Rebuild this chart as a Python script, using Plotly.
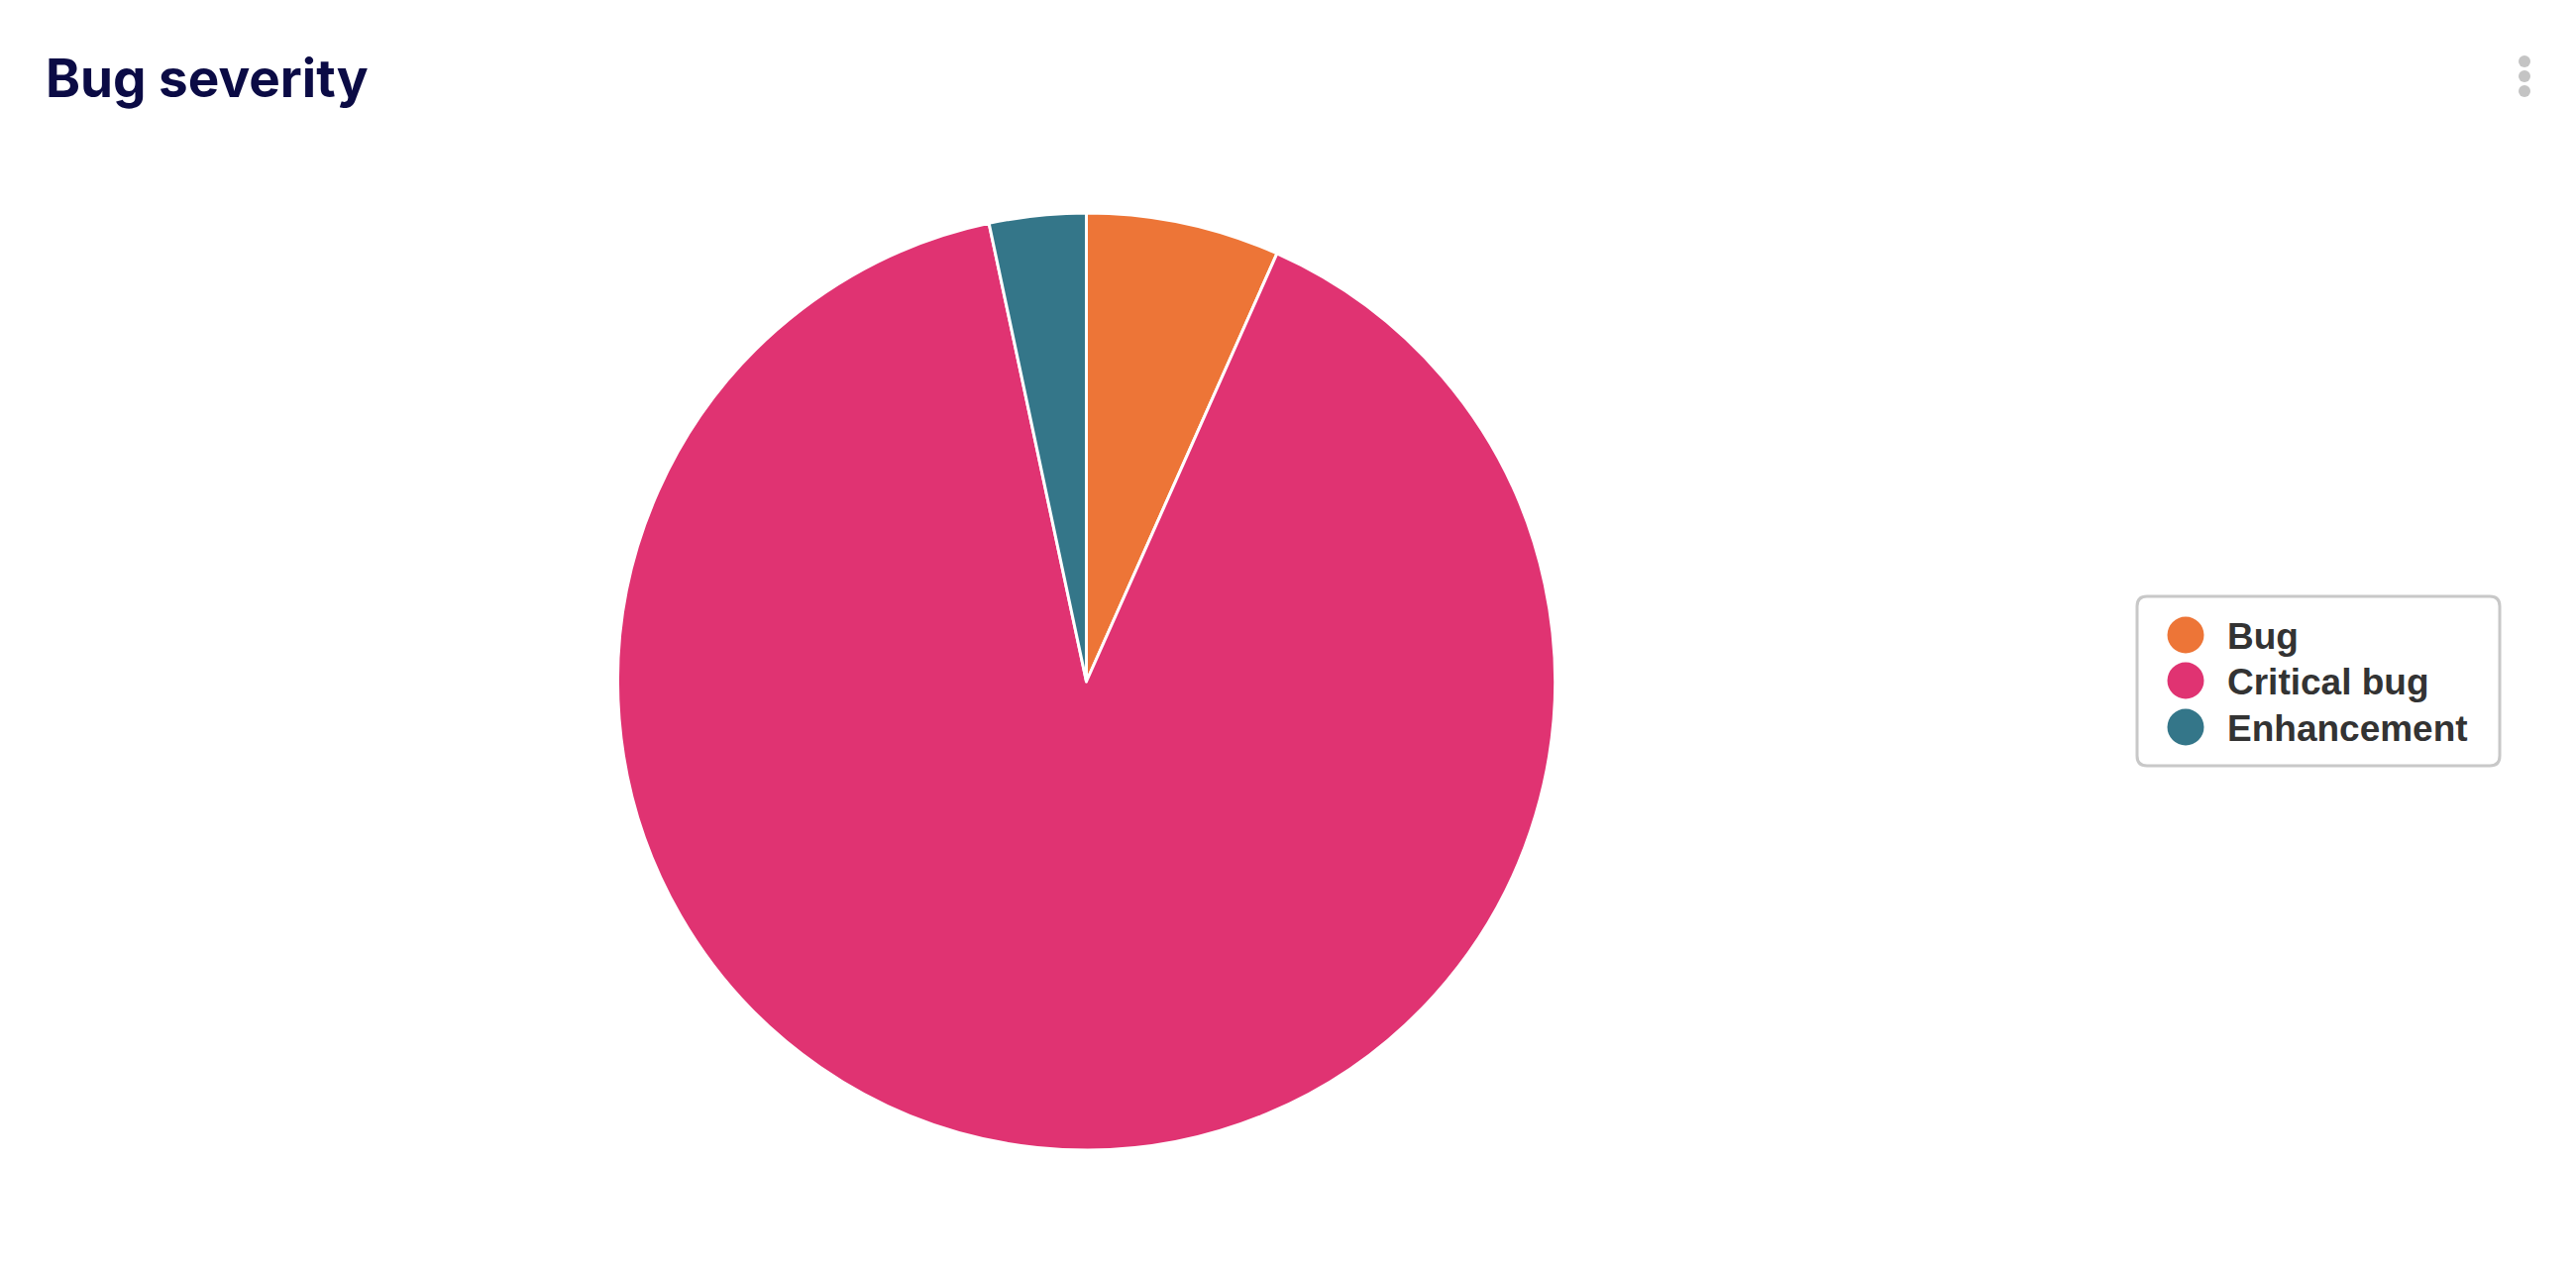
import plotly.graph_objects as go

OFF = 8  # default page body margin
W, H = 2600 - 2 * OFF, 1281 - 2 * OFF

categories = ["Bug", "Critical bug", "Enhancement"]
counts = [2, 27, 1]
colors = ["#ED7537", "#E03372", "#347689"]
title_text = "Bug severity"

def px(x):
    return (x - OFF) / W

def py(y):
    return 1 - (y - OFF) / H

cx, cy, r = 1096.5, 688, 473

fig = go.Figure()
fig.add_trace(go.Pie(
    labels=categories,
    values=counts,
    sort=False,
    direction="clockwise",
    rotation=0,
    textinfo="none",
    hoverinfo="label+value+percent",
    marker=dict(colors=colors, line=dict(color="white", width=3)),
    domain=dict(x=[px(cx - r), px(cx + r)], y=[py(cy + r), py(cy - r)]),
    showlegend=False,
))

shapes = []
annotations = []

# title
annotations.append(dict(
    text="<b>" + title_text + "</b>", x=px(44), y=py(79), xref="paper", yref="paper",
    xanchor="left", yanchor="middle", showarrow=False,
    font=dict(family="Inter", size=53, color="#0B0B45"),
))

# menu dots
for yy in [62, 77, 92]:
    shapes.append(dict(type="circle", xref="paper", yref="paper",
                       x0=px(2548 - 6), x1=px(2548 + 6), y0=py(yy + 6), y1=py(yy - 6),
                       fillcolor="#C4C4C4", line=dict(width=0)))

# legend box with rounded corners
lx0, ly0, lx1, ly1, rr = 2157, 602, 2523, 773, 10
path = (f"M {px(lx0 + rr)},{py(ly0)} L {px(lx1 - rr)},{py(ly0)} "
        f"Q {px(lx1)},{py(ly0)} {px(lx1)},{py(ly0 + rr)} "
        f"L {px(lx1)},{py(ly1 - rr)} Q {px(lx1)},{py(ly1)} {px(lx1 - rr)},{py(ly1)} "
        f"L {px(lx0 + rr)},{py(ly1)} Q {px(lx0)},{py(ly1)} {px(lx0)},{py(ly1 - rr)} "
        f"L {px(lx0)},{py(ly0 + rr)} Q {px(lx0)},{py(ly0)} {px(lx0 + rr)},{py(ly0)} Z")
shapes.append(dict(type="path", path=path, xref="paper", yref="paper",
                   line=dict(color="#C8C8C8", width=3), fillcolor="white", layer="below"))

row_y = [641, 687, 734]
for lab, col, yy in zip(categories, colors, row_y):
    shapes.append(dict(type="circle", xref="paper", yref="paper",
                       x0=px(2206 - 18.5), x1=px(2206 + 18.5), y0=py(yy + 18.5), y1=py(yy - 18.5),
                       fillcolor=col, line=dict(width=0)))
    annotations.append(dict(
        text="<b>" + lab + "</b>", x=px(2246), y=py(yy + 1), xref="paper", yref="paper",
        xanchor="left", yanchor="middle", showarrow=False,
        font=dict(family="Liberation Sans", size=37, color="#333333"),
    ))

fig.update_layout(
    width=W, height=H,
    margin=dict(l=0, r=0, t=0, b=0),
    paper_bgcolor="white", plot_bgcolor="white",
    shapes=shapes, annotations=annotations,
)

fig.write_html("out.html", config={"displayModeBar": False})
